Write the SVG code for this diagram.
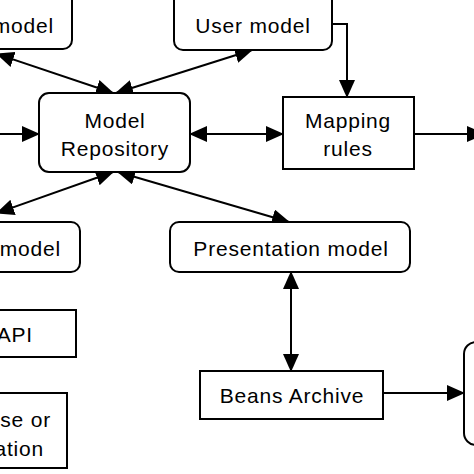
<svg xmlns="http://www.w3.org/2000/svg" width="474" height="474" viewBox="0 0 474 474">
<style>
.box{fill:#fff;stroke:#000;stroke-width:2}
.t{font-family:"Liberation Sans",Arial,sans-serif;font-size:21px;letter-spacing:0.8px;fill:#000}
.m{text-anchor:middle}
.e{text-anchor:end}
.c{fill:none;stroke:#000;stroke-width:2}
</style>
<defs>
<marker id="ah" markerUnits="userSpaceOnUse" markerWidth="18" markerHeight="16" refX="17" refY="8" orient="auto-start-reverse">
<path d="M0,0 L18,8 L0,16 z" fill="#000"/>
</marker>
</defs>
<rect width="474" height="474" fill="#fff"/>
<g id="connectors">
<line class="c" x1="-3" y1="54" x2="113" y2="93" marker-start="url(#ah)" marker-end="url(#ah)"/>
<line class="c" x1="252" y1="50" x2="116" y2="93" marker-start="url(#ah)" marker-end="url(#ah)"/>
<line class="c" x1="-5" y1="134" x2="39" y2="134" marker-end="url(#ah)"/>
<line class="c" x1="190" y1="134" x2="283" y2="134" marker-start="url(#ah)" marker-end="url(#ah)"/>
<path class="c" d="M332,24 H347 V97" marker-end="url(#ah)"/>
<line class="c" x1="414" y1="134" x2="484" y2="134" marker-end="url(#ah)"/>
<line class="c" x1="113" y1="172" x2="-3" y2="213" marker-start="url(#ah)" marker-end="url(#ah)"/>
<line class="c" x1="118" y1="172" x2="289" y2="222" marker-start="url(#ah)" marker-end="url(#ah)"/>
<line class="c" x1="291" y1="272" x2="291" y2="371" marker-start="url(#ah)" marker-end="url(#ah)"/>
<line class="c" x1="383" y1="393" x2="464" y2="393" marker-end="url(#ah)"/>
</g>
<g id="topleft-model">
<rect class="box" x="-20" y="-10" width="92" height="59" rx="9"/>
<text class="t e" x="54" y="33">model</text>
</g>
<g id="user-model">
<rect class="box" x="174" y="-8" width="158" height="58" rx="9"/>
<text class="t m" x="253" y="33">User model</text>
</g>
<g id="model-repository">
<rect class="box" x="39" y="93" width="151" height="79" rx="10"/>
<text class="t m" x="115" y="128">Model</text>
<text class="t m" x="115" y="156">Repository</text>
</g>
<g id="mapping-rules">
<rect class="box" x="283" y="97" width="131" height="72"/>
<text class="t m" x="348" y="128">Mapping</text>
<text class="t m" x="348" y="156">rules</text>
</g>
<g id="bottomleft-model">
<rect class="box" x="-20" y="222" width="100" height="50" rx="9"/>
<text class="t e" x="61" y="256">model</text>
</g>
<g id="presentation-model">
<rect class="box" x="170" y="222" width="240" height="50" rx="9"/>
<text class="t m" x="291" y="256">Presentation model</text>
</g>
<g id="api">
<rect class="box" x="-20" y="310" width="96" height="47"/>
<text class="t e" x="33" y="342">API</text>
</g>
<g id="database">
<rect class="box" x="-20" y="393" width="87" height="75"/>
<text class="t e" x="51" y="427">se or</text>
<text class="t e" x="44" y="456">ation</text>
</g>
<g id="beans-archive">
<rect class="box" x="200" y="371" width="183" height="48"/>
<text class="t m" x="292" y="403">Beans Archive</text>
</g>
<g id="right-box">
<rect class="box" x="464" y="342" width="40" height="103" rx="12"/>
</g>
</svg>
